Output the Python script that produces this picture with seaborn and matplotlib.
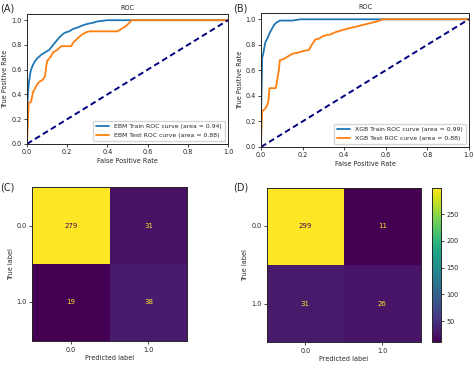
import numpy as np
import pandas as pd
import matplotlib
matplotlib.use("Agg")
import matplotlib.pyplot as plt
import seaborn as sns

# ROC curves
ebm_train_fpr = [0, 0, 0.005, 0.01, 0.015, 0.02, 0.03, 0.04, 0.05, 0.07, 0.09, 0.11, 0.12, 0.14,
                 0.16, 0.18, 0.19, 0.21, 0.23, 0.25, 0.28, 0.30, 0.33, 0.35, 0.40, 1.0]
ebm_train_tpr = [0, 0.25, 0.42, 0.50, 0.56, 0.60, 0.64, 0.67, 0.69, 0.72, 0.74, 0.76, 0.78, 0.82,
                 0.86, 0.89, 0.90, 0.91, 0.93, 0.94, 0.96, 0.97, 0.98, 0.99, 1.0, 1.0]
ebm_test_fpr = [0, 0.005, 0.008, 0.02, 0.025, 0.03, 0.04, 0.05, 0.06, 0.08, 0.09, 0.095, 0.10, 0.11,
                0.12, 0.13, 0.15, 0.17, 0.22, 0.23, 0.25, 0.27, 0.29, 0.31, 0.45, 0.47, 0.49, 0.51,
                0.52, 1.0]
ebm_test_tpr = [0, 0.20, 0.33, 0.34, 0.38, 0.42, 0.45, 0.48, 0.50, 0.52, 0.55, 0.62, 0.67, 0.69,
                0.71, 0.74, 0.76, 0.79, 0.79, 0.82, 0.85, 0.88, 0.90, 0.91, 0.91, 0.93, 0.95, 0.98,
                1.0, 1.0]

xgb_train_fpr = [0, 0, 0.005, 0.01, 0.02, 0.03, 0.04, 0.05, 0.06, 0.07, 0.09, 0.15, 0.19, 1.0]
xgb_train_tpr = [0, 0.30, 0.70, 0.73, 0.82, 0.85, 0.89, 0.92, 0.95, 0.97, 0.99, 0.99, 1.0, 1.0]
xgb_test_fpr = [0, 0, 0.005, 0.02, 0.03, 0.035, 0.04, 0.07, 0.075, 0.08, 0.085, 0.09, 0.11, 0.13,
                0.15, 0.18, 0.20, 0.23, 0.24, 0.26, 0.28, 0.30, 0.33, 0.36, 0.40, 0.45, 0.50, 0.55,
                0.59, 1.0]
xgb_test_tpr = [0, 0.10, 0.28, 0.30, 0.33, 0.36, 0.46, 0.46, 0.50, 0.55, 0.60, 0.68, 0.69, 0.71,
                0.73, 0.74, 0.75, 0.76, 0.79, 0.84, 0.85, 0.87, 0.88, 0.90, 0.92, 0.94, 0.96, 0.98,
                1.0, 1.0]

# confusion matrices
class_labels = ["0.0", "1.0"]
cm_ebm = [[279, 31], [19, 38]]
cm_xgb = [[299, 11], [31, 26]]

sns.set_style("ticks")
plt.rcParams["font.family"] = ["DejaVu Sans"]
fs = 4.7

fig = plt.figure(figsize=(4.74, 3.69), dpi=100)


def roc_panel(rect, tr_fpr, tr_tpr, te_fpr, te_tpr, name, auc_tr, auc_te, letter, lx):
    ax = fig.add_axes(rect)
    sns.lineplot(x=tr_fpr, y=tr_tpr, ax=ax, color="#1f77b4", lw=1.3, sort=False, estimator=None,
                 label=f"{name} Train ROC curve (area = {auc_tr:.2f})")
    sns.lineplot(x=te_fpr, y=te_tpr, ax=ax, color="#ff7f0e", lw=1.3, sort=False, estimator=None,
                 label=f"{name} Test ROC curve (area = {auc_te:.2f})")
    sns.lineplot(x=[0, 1], y=[0, 1], ax=ax, color="navy", lw=1.4, linestyle=(0, (3, 1.8)))
    ax.set_xlim(0, 1)
    ax.set_ylim(0, 1.05)
    ax.set_xlabel("False Positive Rate", fontsize=fs, labelpad=1.5)
    ax.set_ylabel("True Positive Rate", fontsize=fs, labelpad=2)
    ax.set_title("ROC", fontsize=fs, pad=3)
    ax.tick_params(labelsize=fs, length=2.5, width=0.6, pad=1.5)
    for s in ax.spines.values():
        s.set_linewidth(0.7)
    ax.legend(loc="lower right", fontsize=fs - 0.3, handlelength=2.2, borderpad=0.5, labelspacing=0.5)
    fig.text(lx, 0.978, letter, fontsize=7, va="center")
    return ax


roc_panel([0.057, 0.610, 0.424, 0.352], ebm_train_fpr, ebm_train_tpr, ebm_test_fpr, ebm_test_tpr,
          "EBM", 0.94, 0.88, "(A)", 0.0)
roc_panel([0.551, 0.602, 0.438, 0.363], xgb_train_fpr, xgb_train_tpr, xgb_test_fpr, xgb_test_tpr,
          "XGB", 0.99, 0.88, "(B)", 0.491)


def cm_panel(rect, cm, letter, lx, cbar_rect=None):
    ax = fig.add_axes(rect)
    df = pd.DataFrame(cm, index=class_labels, columns=class_labels)
    vmin, vmax = np.min(cm), np.max(cm)
    kw = {}
    if cbar_rect is not None:
        kw["cbar_ax"] = fig.add_axes(cbar_rect)
    sns.heatmap(df, ax=ax, cmap="viridis", annot=True, fmt="d", cbar=cbar_rect is not None,
                annot_kws={"fontsize": fs + 0.3}, vmin=vmin, vmax=vmax, **kw)
    cmap = plt.get_cmap("viridis")
    mid = (vmin + vmax) / 2
    for t in ax.texts:
        v = int(t.get_text())
        t.set_color(cmap(0.0) if v > mid else cmap(1.0))
    for s in ax.spines.values():
        s.set_visible(True)
        s.set_linewidth(0.7)
    ax.set_xlabel("Predicted label", fontsize=fs, labelpad=2)
    ax.set_ylabel("True label", fontsize=fs, labelpad=2)
    ax.tick_params(labelsize=fs, length=2.5, width=0.6, pad=1.5, left=True, bottom=True)
    ax.set_yticklabels(class_labels, rotation=0)
    ax.set_xticklabels(class_labels, rotation=0)
    if cbar_rect is not None:
        cb = ax.collections[0].colorbar
        cb.set_ticks([50, 100, 150, 200, 250])
        cb.ax.tick_params(labelsize=fs, length=2.5, width=0.6, pad=1.5)
        cb.outline.set_visible(True)
        cb.outline.set_linewidth(0.7)
    fig.text(lx, 0.493, letter, fontsize=7, va="center")
    return ax


cm_panel([0.068, 0.076, 0.327, 0.417], cm_ebm, "(C)", 0.0)
cm_panel([0.563, 0.073, 0.325, 0.418], cm_xgb, "(D)", 0.491, cbar_rect=[0.911, 0.073, 0.019, 0.418])

fig.savefig("out.png", dpi=100)
